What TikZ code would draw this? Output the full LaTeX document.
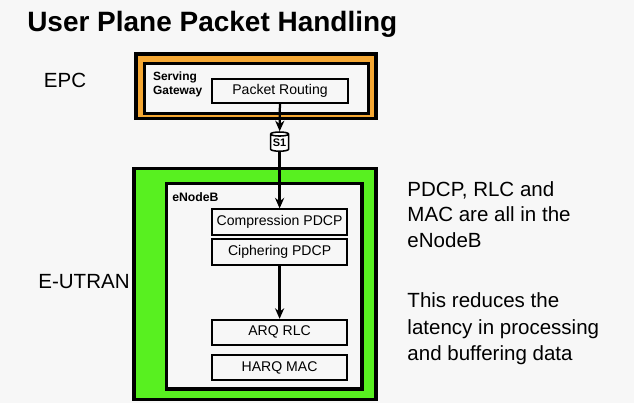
\documentclass[tikz,border=0pt]{standalone}
\usepackage{fontspec}
\setmainfont{Liberation Sans}
\usepackage{tikz}
\usetikzlibrary{shapes.geometric, arrows.meta}

\definecolor{bgpage}{RGB}{247,247,247}
\definecolor{epcorange}{RGB}{245,168,52}
\definecolor{utrangreen}{RGB}{88,240,32}

\begin{document}
\begin{tikzpicture}[
  outer/.style={rectangle, draw, line width=2.2pt, inner sep=0pt},
  inner/.style={rectangle, draw, line width=2.2pt, fill=bgpage, inner sep=0pt},
  func/.style={rectangle, draw, line width=1.4pt, fill=bgpage, minimum width=3.375cm,
               minimum height=0.63cm, inner sep=0pt, font=\fontsize{10}{12}\selectfont},
  side/.style={font=\fontsize{14.6}{18.2}\selectfont, align=left},
  arrow/.style={->, line width=1.6pt, >={Stealth[length=7.5pt, width=6.5pt]}}
]
\useasboundingbox (0,0) rectangle (15.85,-10.075);
\fill[bgpage] (0,0) rectangle (15.85,-10.075);

% Title
\node[anchor=base west, font=\fontsize{19.9}{24}\selectfont\bfseries, inner sep=0pt]
  at (0.675,-0.78) (title) {User Plane Packet Handling};

% EPC part
\node[outer, fill=epcorange, minimum width=6.0cm, minimum height=1.62cm] at (6.4,-2.16)   (epc) {};
\node[inner, minimum width=5.6cm, minimum height=1.26cm]                  at (6.41,-2.21)  (gw)  {};
\node[anchor=west, align=left, inner sep=0pt, font=\fontsize{8.5}{10.6}\selectfont\bfseries]
  at (3.82,-2.11) (gwlabel) {Serving\\Gateway};
\node[func, minimum width=3.4cm, minimum height=0.6cm] at (7.0,-2.275) (routing) {Packet Routing};

% S1 interface
\node[cylinder, shape border rotate=90, draw, line width=1.1pt, fill=white, aspect=0.3,
      minimum width=0.45cm, minimum height=0.48cm, inner sep=0pt,
      font=\fontsize{7.8}{8}\selectfont\bfseries] at (6.99,-3.575) (s1) {S1};

% E-UTRAN part
\node[outer, fill=utrangreen, minimum width=6.05cm, minimum height=5.76cm] at (6.375,-7.1)  (eutran) {};
\node[inner, minimum width=4.88cm, minimum height=5.13cm]                   at (6.61,-7.16) (enb)    {};
\node[anchor=west, inner sep=0pt, font=\fontsize{8.7}{10}\selectfont\bfseries]
  at (4.3,-4.925) (enblabel) {eNodeB};
\node[func] at (6.99,-5.55)   (comp) {Compression PDCP};
\node[func] at (6.99,-6.3)    (ciph) {Ciphering PDCP};
\node[func] at (6.99,-8.31)   (arq)  {ARQ RLC};
\node[func] at (6.99,-9.19)   (harq) {HARQ MAC};

% Arrows
\draw[arrow] (routing) -- (s1);
\draw[arrow] (s1)      -- (comp);
\draw[arrow] (ciph)    -- (arq);

% Side labels
\node[side] at (1.625,-2.0) (epclabel)   {EPC};
\node[side] at (2.1,-7.05)  (utranlabel) {E-UTRAN};
\node[side, anchor=base west, inner sep=0pt] at (10.18,-6.18) (note1)
  {PDCP, RLC and\\MAC are all in the\\eNodeB};
\node[side, anchor=base west, inner sep=0pt, font=\fontsize{14.6}{19}\selectfont] at (10.18,-9.02) (note2)
  {This reduces the\\latency in processing\\and buffering data};
\end{tikzpicture}
\end{document}
